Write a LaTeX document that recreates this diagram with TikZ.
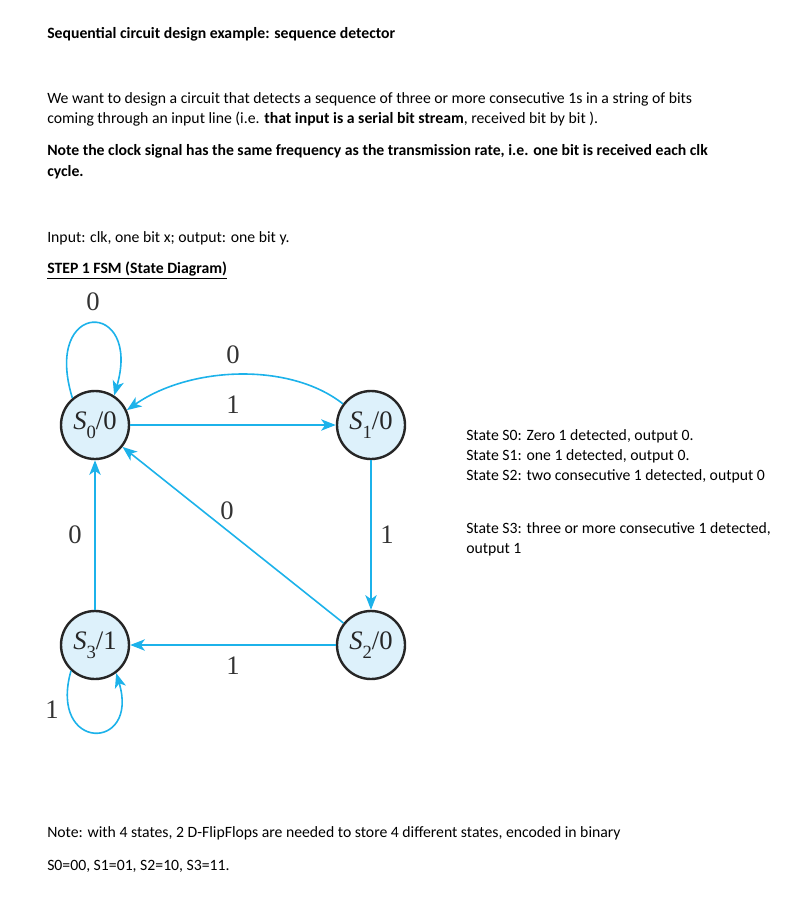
\documentclass[tikz,border=0pt]{standalone}
\usepackage{amsmath,amssymb}
\usepackage{fontspec}
\usepackage{tikz}
\usetikzlibrary{arrows.meta}
\usepackage{xcolor}
\newfontfamily\bodyfont{Carlito}
\newfontfamily\diagfont{Liberation Serif}
\newcommand{\statelabel}[2]{{\diagfont\textit{S}\raisebox{-0.33em}{\fontsize{14}{15}\selectfont #1}/#2}}
\definecolor{fsmblue}{HTML}{1CB2EA}
\definecolor{statefill}{HTML}{DDF1FB}
\definecolor{statering}{HTML}{262626}

\begin{document}
\begin{tikzpicture}[x=0.75pt,y=-0.75pt]
  \tikzset{bodytext/.style={anchor=base west,inner sep=0pt,font=\bodyfont\fontsize{11.8}{14}\selectfont,text=black}}
  \tikzset{boldtext/.style={bodytext,font=\bodyfont\bfseries\fontsize{11.8}{14}\selectfont}}
  \tikzset{statenode/.style={circle,fill=statefill,draw=statering,line width=1.8pt,minimum size=51pt,inner sep=0pt,font=\fontsize{20}{22}\selectfont,text=black!85}}
  \tikzset{fsmedge/.style={draw=fsmblue,line width=1.2pt,-{Stealth[length=11pt,width=8.5pt,inset=3pt]}}}
  \tikzset{edgelabel/.style={font=\diagfont\fontsize{20}{24}\selectfont,inner sep=0pt,text=black!80}}
  \useasboundingbox (0,0) rectangle (791,897);
  \node[boldtext] (title) at (47,38) {Sequential circuit design example: sequence detector};
  \node[bodytext] (intro1) at (47,103) {We want to design a circuit that detects a sequence of three or more consecutive 1s in a string of bits};
  \node[bodytext] (intro2) at (47,123) {coming through an input line (i.e. \textbf{that input is a serial bit stream}, received bit by bit ).};
  \node[boldtext] (note1) at (47,155) {Note the clock signal has the same frequency as the transmission rate, i.e. one bit is received each clk};
  \node[boldtext] (note2) at (47,176) {cycle.};
  \node[bodytext] (io) at (47,242) {Input: clk, one bit x; output: one bit y.};
  \node[boldtext] (step) at (47,273) {\underline{STEP 1 FSM (State Diagram)}};
  \node[statenode] (s0) at (95,425) {\statelabel{0}{0}};
  \node[statenode] (s1) at (371,425) {\statelabel{1}{0}};
  \node[statenode] (s2) at (371,645) {\statelabel{2}{0}};
  \node[statenode] (s3) at (95,645) {\statelabel{3}{1}};
  \draw[fsmedge] (s0.130) .. controls (42,299) and (142,299) .. (s0.57);
  \node[edgelabel] (l00) at (93,302) {0};
  \draw[fsmedge] (s1.143) .. controls (290,362) and (190,366) .. (s0.25);
  \node[edgelabel] (l10) at (233,355) {0};
  \draw[fsmedge] (s0) -- (s1);
  \node[edgelabel] (l01) at (233,405) {1};
  \draw[fsmedge] (s1) -- (s2);
  \node[edgelabel] (l12) at (387,535) {1};
  \draw[fsmedge] (s2) -- (s0);
  \node[edgelabel] (l20) at (227,511) {0};
  \draw[fsmedge] (s2) -- (s3);
  \node[edgelabel] (l23) at (233,666) {1};
  \draw[fsmedge] (s3) -- (s0);
  \node[edgelabel] (l30) at (75,535) {0};
  \draw[fsmedge] (s3.-133) .. controls (48,752) and (140,752) .. (s3.-53);
  \node[edgelabel] (l33) at (52,710) {1};
  \node[bodytext] (d0) at (466,440) {State S0: Zero 1 detected, output 0.};
  \node[bodytext] (d1) at (466,460) {State S1: one 1 detected, output 0.};
  \node[bodytext] (d2) at (466,480) {State S2: two consecutive 1 detected, output 0};
  \node[bodytext] (d3) at (466,533) {State S3: three or more consecutive 1 detected,};
  \node[bodytext] (d3b) at (466,553) {output 1};
  \node[bodytext] (enc1) at (47,837) {Note: with 4 states, 2 D-FlipFlops are needed to store 4 different states, encoded in binary};
  \node[bodytext] (enc2) at (47,870) {S0=00, S1=01, S2=10, S3=11.};
\end{tikzpicture}
\end{document}
